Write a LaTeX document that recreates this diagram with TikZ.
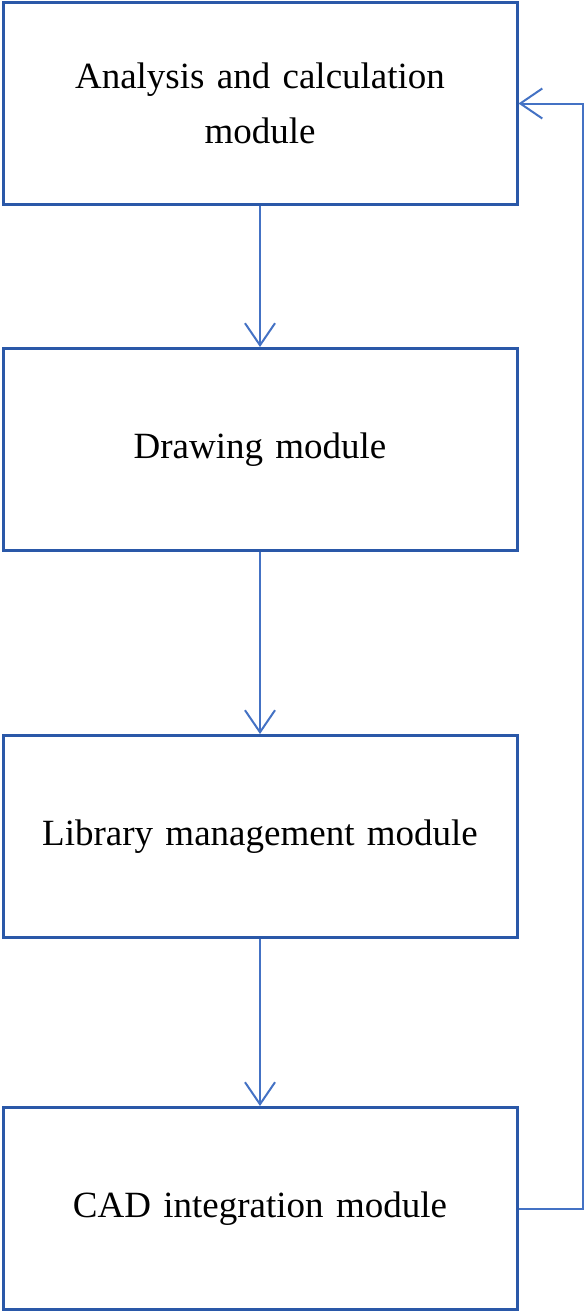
\documentclass[tikz,border=0pt]{standalone}
\usepackage{fontspec}
\setmainfont{Liberation Serif}
\usetikzlibrary{arrows.meta}
\definecolor{boxblue}{HTML}{2A58A8}
\definecolor{arrblue}{HTML}{4472C4}
\begin{document}
\begin{tikzpicture}[x=1pt,y=-1pt,
  modbox/.style={draw=boxblue, line width=3pt, minimum width=514pt, minimum height=202pt,
    text width=480pt, align=center, inner sep=0pt,
    font=\fontsize{37}{55}\selectfont},
  flow/.style={draw=arrblue, line width=2pt, -{Straight Barb[length=22pt,width=30pt,line width=2pt]}}]
\useasboundingbox (0,0) rectangle (586,1312);
\node[modbox] (a) at (260,103.5) {Analysis and calculation\\module};
\node[modbox] (b) at (260,449.5) {Drawing module};
\node[modbox] (c) at (260,836.5) {Library management module};
\node[modbox] (d) at (260,1208.5) {CAD integration module};
\coordinate (r) at (582.5,0);
\draw[flow] (a) -- (b);
\draw[flow] (b) -- (c);
\draw[flow] (c) -- (d);
\draw[flow] (d.east) -| (r |- d.east) -- (r |- a.east) -- (a.east);
\end{tikzpicture}
\end{document}
